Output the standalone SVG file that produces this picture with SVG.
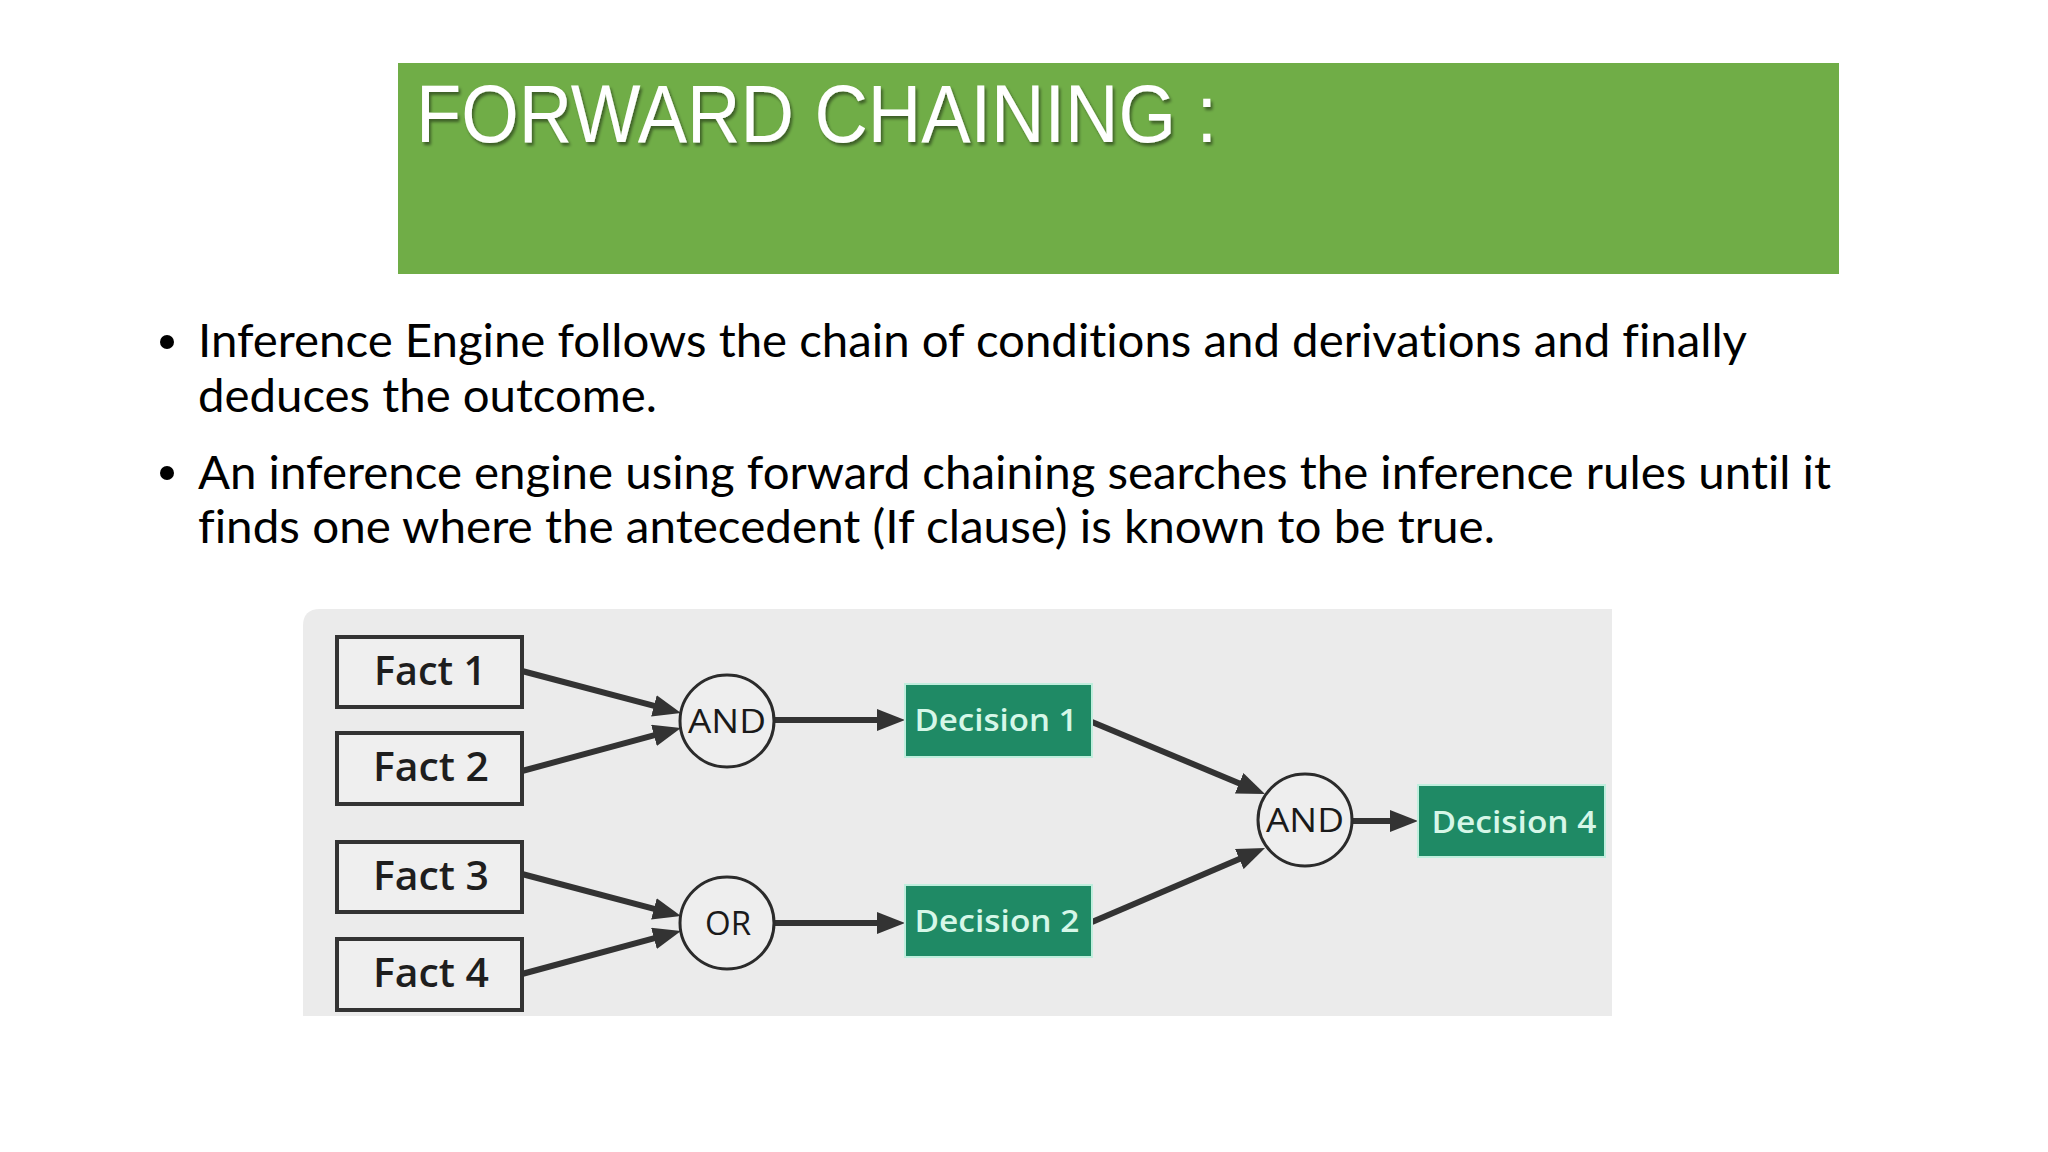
<svg xmlns="http://www.w3.org/2000/svg" width="2048" height="1152" viewBox="0 0 2048 1152">
<defs>
<style>
.title{font-family:"Liberation Sans",Arial,sans-serif;font-size:81px;fill:#ffffff}
.body{font-family:Lato,"Open Sans",sans-serif;font-size:47px;fill:#000000;font-variant-ligatures:none}
.fact rect{fill:#efefef;stroke:#333333;stroke-width:4}
.fact text{font-family:"Open Sans",sans-serif;font-size:40px;font-weight:600;fill:#1e1e1e;text-anchor:middle}
.gate ellipse{fill:#eeeeee;stroke:#2b2b2b;stroke-width:3}
.gate text{font-family:"Open Sans",sans-serif;font-size:33px;fill:#1a1a1a;text-anchor:middle}
.dec rect{fill:#1f8a65;stroke:#bfeedd;stroke-width:2}
.dec text{font-family:"Open Sans",sans-serif;font-size:30px;font-weight:600;fill:#d6f7e8;text-anchor:middle}
.conn line{stroke:#333333;stroke-width:6;fill:none}
</style>
<marker id="ah" markerUnits="userSpaceOnUse" markerWidth="28" markerHeight="22" refX="16" refY="11" orient="auto">
<path d="M0,0 L28,11 L0,22 z" fill="#333333"/>
</marker>
<filter id="sh" x="-5%" y="-20%" width="110%" height="140%">
<feDropShadow dx="2" dy="3" stdDeviation="1.5" flood-color="#000000" flood-opacity="0.45"/>
</filter>
</defs>
<rect x="0" y="0" width="2048" height="1152" fill="#ffffff"/>
<g id="title">
<rect x="398" y="63" width="1441" height="211" fill="#70ad47"/>
<text class="title" x="416" y="142" textLength="801" lengthAdjust="spacingAndGlyphs" filter="url(#sh)">FORWARD CHAINING :</text>
</g>
<g id="bullets">
<circle cx="167" cy="342" r="7" fill="#000000"/>
<circle cx="167" cy="473" r="7" fill="#000000"/>
<text class="body" x="198" y="357" textLength="1549" lengthAdjust="spacingAndGlyphs">Inference Engine follows the chain of conditions and derivations and finally</text>
<text class="body" x="198" y="412" textLength="459" lengthAdjust="spacingAndGlyphs">deduces the outcome.</text>
<text class="body" x="198" y="489" textLength="1633" lengthAdjust="spacingAndGlyphs">An inference engine using forward chaining searches the inference rules until it</text>
<text class="body" x="198" y="543" textLength="1297" lengthAdjust="spacingAndGlyphs">finds one where the antecedent (If clause) is known to be true.</text>
</g>
<g id="diagram-bg">
<path d="M303,1016 L303,626 Q303,609 320,609 L1612,609 L1612,1016 Z" fill="#ebebeb"/>
</g>
<g id="connectors" class="conn">
<line x1="522" y1="671" x2="669.4" y2="709.9" marker-end="url(#ah)"/>
<line x1="522" y1="771" x2="669.4" y2="731.1" marker-end="url(#ah)"/>
<line x1="522" y1="874" x2="669.4" y2="912.9" marker-end="url(#ah)"/>
<line x1="522" y1="974" x2="669.4" y2="934.1" marker-end="url(#ah)"/>
<line x1="774" y1="720" x2="893" y2="720" marker-end="url(#ah)"/>
<line x1="774" y1="923" x2="893" y2="923" marker-end="url(#ah)"/>
<line x1="1092" y1="722" x2="1253.9" y2="789.4" marker-end="url(#ah)"/>
<line x1="1092" y1="922" x2="1254" y2="852.7" marker-end="url(#ah)"/>
<line x1="1353" y1="821" x2="1406" y2="821" marker-end="url(#ah)"/>
</g>
<g id="fact1" class="fact"><rect x="337" y="637" width="185" height="70"/><text x="430" y="685" textLength="112" lengthAdjust="spacingAndGlyphs">Fact 1</text></g>
<g id="fact2" class="fact"><rect x="337" y="733" width="185" height="71"/><text x="431" y="781" textLength="116" lengthAdjust="spacingAndGlyphs">Fact 2</text></g>
<g id="fact3" class="fact"><rect x="337" y="842" width="185" height="70"/><text x="431" y="890" textLength="116" lengthAdjust="spacingAndGlyphs">Fact 3</text></g>
<g id="fact4" class="fact"><rect x="337" y="939" width="185" height="71"/><text x="431" y="987" textLength="116" lengthAdjust="spacingAndGlyphs">Fact 4</text></g>
<g id="and1" class="gate"><ellipse cx="727" cy="721" rx="47" ry="46"/><text x="727" y="733" textLength="78" lengthAdjust="spacingAndGlyphs">AND</text></g>
<g id="or" class="gate"><ellipse cx="727" cy="923" rx="47" ry="46"/><text x="728" y="935">OR</text></g>
<g id="and2" class="gate"><ellipse cx="1305" cy="820" rx="47" ry="46"/><text x="1305" y="832" textLength="78" lengthAdjust="spacingAndGlyphs">AND</text></g>
<g id="decision1" class="dec"><rect x="905" y="684" width="187" height="73"/><text x="996" y="731" textLength="163" lengthAdjust="spacingAndGlyphs">Decision 1</text></g>
<g id="decision2" class="dec"><rect x="905" y="885" width="187" height="72"/><text x="997" y="932" textLength="165" lengthAdjust="spacingAndGlyphs">Decision 2</text></g>
<g id="decision4" class="dec"><rect x="1418" y="785" width="187" height="72"/><text x="1514" y="833" textLength="165" lengthAdjust="spacingAndGlyphs">Decision 4</text></g>
</svg>
